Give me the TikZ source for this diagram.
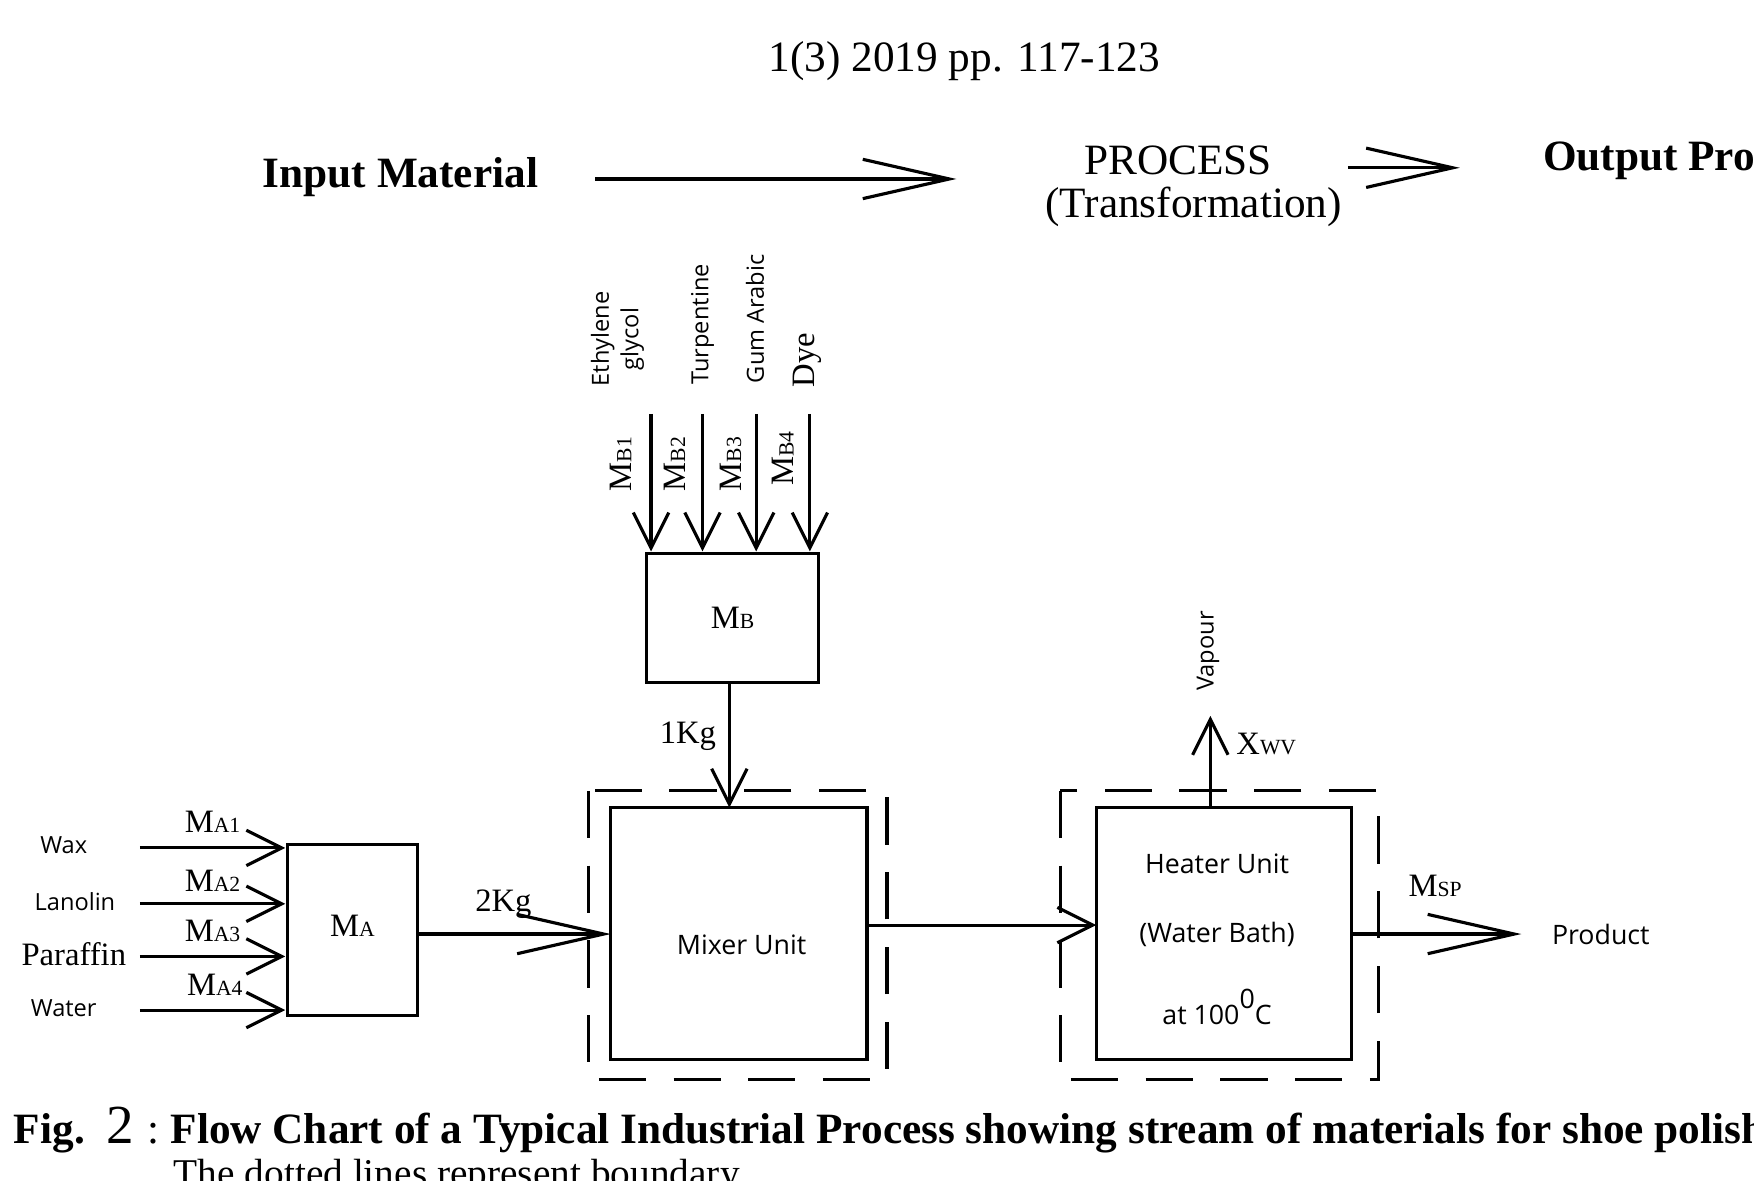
\documentclass[tikz,border=0pt]{standalone}
\usepackage{fontspec}
\setmainfont{Liberation Serif}
\newfontfamily\sansf{Open Sans}
\usetikzlibrary{arrows.meta}
\tikzset{
  x=0.01cm, y=-0.01cm,
  bnd/.style={draw, line width=0.8pt, dash pattern=on 12pt off 7pt},
  flow/.style={line width=0.8pt, -{Straight Barb[length=9pt,width=9pt]}},
  bigflow/.style={line width=0.8pt, -{Straight Barb[length=22pt,width=10pt]}},
  sl/.style={font=\sansf\fontsize{6}{7.5}\selectfont},
  sm/.style={font=\sansf\fontsize{6.8}{8}\selectfont},
  sr/.style={font=\fontsize{8.3}{10}\selectfont},
  hd/.style={font=\fontsize{11}{13}\selectfont},
  hb/.style={font=\bfseries\fontsize{11}{13}\selectfont},
}
\newcommand{\Msub}[1]{M{\fontsize{5.5}{6.5}\selectfont #1}}
\begin{document}
\begin{tikzpicture}
\useasboundingbox (0,0) rectangle (1568,1055);
\clip (0,0) rectangle (1568,1055);
% header
\node[hd] (hdr) at (862,55) {1(3) 2019 pp. 117-123};
\node[hb] (inm) at (358,158) {Input Material};
\node[hd] (proc) at (1053,143) {PROCESS};
\node[hd] (trans) at (1067,185) {(Transformation)};
\node[hb, anchor=west] (outp) at (1367,143) {Output Product};
\coordinate (a1) at (532,160); \coordinate (a2) at (855,160);
\draw[bigflow] (a1) -- (a2);
\coordinate (b1) at (1205,150); \coordinate (b2) at (1305,150);
\draw[bigflow] (b1) -- (b2);
% MB
\draw[line width=0.8pt] (578,495) rectangle (732,610);
\coordinate (MBc) at (655,552);
\node[sr] (MBl) at (MBc) {\Msub{B}};
\foreach \x/\n in {582/1,628/2,676/3,724/4}{
  \coordinate (bi\n) at (\x,370); \coordinate (bo\n) at (\x,493);
  \draw[flow] (bi\n) -- (bo\n);
}
\node[sr, rotate=90] (mb1) at (555,415) {\Msub{B1}};
\node[sr, rotate=90] (mb2) at (603,415) {\Msub{B2}};
\node[sr, rotate=90] (mb3) at (653,415) {\Msub{B3}};
\node[sr, rotate=90] (mb4) at (700,410) {\Msub{B4}};
\node[sl, rotate=90, align=center] (eg) at (552,303) {Ethylene\\glycol};
\node[sl, rotate=90] (tu) at (628,290) {Turpentine};
\node[sl, rotate=90] (ga) at (675,285) {Gum Arabic};
\node[sr, rotate=90] (dy) at (722,322) {Dye};
% mixer
\draw[line width=0.8pt] (546,722) rectangle (775,947);
\draw[bnd] (526,707) rectangle (793,965);
\node[sm] (mix) at (663,845) {Mixer Unit};
\coordinate (mbb) at (652,610); \coordinate (mxt) at (652,722);
\draw[flow] (mbb) -- (mxt);
\node[sr] (kg1) at (615,658) {1Kg};
% MA
\draw[line width=0.8pt] (257,755) rectangle (373,908);
\node[sr] (MAl) at (315,828) {\Msub{A}};
\foreach \y/\n in {758/1,808/2,855/3,903/4}{
  \coordinate (ai\n) at (125,\y); \coordinate (ao\n) at (255,\y);
  \draw[flow] (ai\n) -- (ao\n);
}
\node[sr] (ma1) at (190,735) {\Msub{A1}};
\node[sr] (ma2) at (190,787) {\Msub{A2}};
\node[sr] (ma3) at (190,832) {\Msub{A3}};
\node[sr] (ma4) at (192,880) {\Msub{A4}};
\node[sl] (wax) at (57,756) {Wax};
\node[sl] (lan) at (67,806) {Lanolin};
\node[sr] (par) at (66,853) {Paraffin};
\node[sl] (wat) at (57,901) {Water};
\coordinate (mar) at (373,835); \coordinate (mxl) at (546,835);
\draw[bigflow] (mar) -- (mxl);
\node[sr] (kg2) at (450,808) {2Kg};
% heater
\draw[line width=0.8pt] (980,722) rectangle (1208,947);
\draw[bnd] (948,707) rectangle (1232,965);
\node[sm] (h1) at (1088,772) {Heater Unit};
\node[sm] (h2) at (1088,835) {(Water Bath)};
\node[sm] (h3) at (1088,900) {at 100\raisebox{1.1ex}{0}C};
\coordinate (mxr) at (775,827); \coordinate (htl) at (980,827);
\draw[flow] (mxr) -- (htl);
\coordinate (ht) at (1082,722); \coordinate (vp) at (1082,640);
\draw[flow] (ht) -- (vp);
\node[sl, rotate=90] (vap) at (1080,582) {Vapour};
\node[sr] (xwv) at (1132,665) {X{\fontsize{5.5}{6.5}\selectfont WV}};
\coordinate (hr) at (1208,835); \coordinate (pr) at (1360,835);
\draw[bigflow] (hr) -- (pr);
\node[sr] (msp) at (1283,792) {\Msub{SP}};
\node[sm, anchor=west] (prod) at (1375,835) {Product};
% caption
\node[anchor=west, font=\bfseries\fontsize{11}{13}\selectfont] (fig) at (0,1010) {Fig.\ \ \mdseries\fontsize{14}{15}\selectfont 2\ \fontsize{11}{13}\selectfont:\ \bfseries Flow Chart of a Typical Industrial Process showing stream of materials for shoe polish production};
\node[anchor=west, font=\fontsize{10}{12}\selectfont] (cap2) at (143,1052) {The dotted lines represent boundary};
\end{tikzpicture}
\end{document}
